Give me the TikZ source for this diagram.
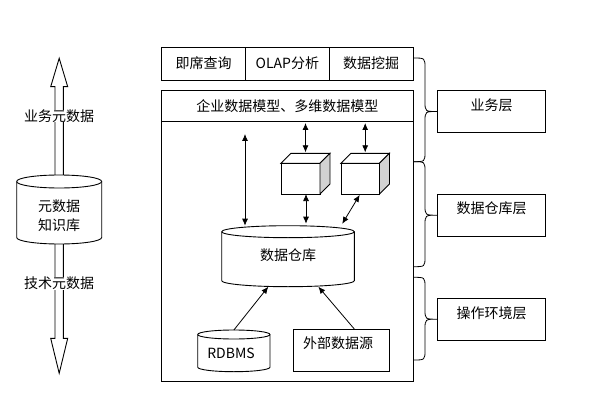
\documentclass[tikz,border=0pt]{standalone}
\usepackage{fontspec}
\setmainfont{Noto Sans CJK SC}
\usetikzlibrary{arrows.meta,calc}
% cylinder drawn around an (invisible) node: #1 name, #2 x radius, #3 y radius
\newcommand\drawcyl[3]{%
  \filldraw[fill=white] ([yshift=-#3pt]#1.north west) -- ([yshift=#3pt]#1.south west)
    arc[start angle=180,end angle=360,x radius=#2pt,y radius=#3pt]
    -- ([yshift=-#3pt]#1.north east)
    arc[start angle=0,end angle=180,x radius=#2pt,y radius=#3pt] -- cycle;
  \draw ([yshift=-#3pt]#1.north west) arc[start angle=180,end angle=360,x radius=#2pt,y radius=#3pt];}
% cube faces around a front-face node
\newcommand\drawcube[1]{%
  \filldraw[fill=white] (#1.north west) -- ($(#1.north west)+(10,-10)$) -- ($(#1.north east)+(10,-10)$) -- (#1.north east) -- cycle;
  \filldraw[fill=gray!35] (#1.north east) -- ($(#1.north east)+(10,-10)$) -- ($(#1.south east)+(10,-10)$) -- (#1.south east) -- cycle;}
% curly brace from main frame to a layer box
\newcommand\layerbrace[3]{%
  \draw[line width=0.8pt] (413,#1) .. controls (425,#1) .. (425,#1+10)
    -- ($(#3.west)+(-12.3,-10)$) .. controls ($(#3.west)+(-12.3,0)$) .. (#3.west)
    .. controls ($(#3.west)+(-12.3,0)$) .. ($(#3.west)+(-12.3,10)$)
    -- (425,#2-10) .. controls (425,#2) .. (413,#2);}
\begin{document}
\begin{tikzpicture}[x=1pt,y=-1pt,line width=0.9pt,
  font=\fontsize{14pt}{16pt}\selectfont,
  box/.style={draw,rectangle,inner sep=0pt,outer sep=0pt},
  shapebox/.style={rectangle,inner sep=0pt,outer sep=0pt},
  txt/.style={inner sep=0pt},
  dbl/.style={{Latex[length=7pt,width=6pt]}-{Latex[length=7pt,width=6pt]}},
  sgl/.style={-{Latex[length=7pt,width=6pt]}}]
\useasboundingbox[fill=white] (0,0) rectangle (597,417);

% ---- left: metadata repository with hollow double arrow
\draw (55,182) -- (55,86.7) -- (50.7,86.7) -- (59.2,58.3) -- (67.7,86.7) -- (63.4,86.7) -- (63.4,182);
\draw (55,237) -- (55,338.3) -- (50.7,338.3) -- (59.2,373.3) -- (67.7,338.3) -- (63.4,338.3) -- (63.4,237);
\node[shapebox,minimum width=85pt,minimum height=69pt] (meta) at (59.2,209.5) {};
\drawcyl{meta}{42.5}{6.5}
\node[txt,align=center,font=\fontsize{14pt}{19pt}\selectfont] (metatxt) at (59.2,215.5) {元数据\\知识库};
\node[txt,fill=white] (bizmeta) at (59.2,116) {业务元数据};
\node[txt,fill=white] (techmeta) at (59.2,283.3) {技术元数据};

% ---- top tools row
\node[box,minimum width=84pt,minimum height=33pt] (q1) at (203.7,63.5) {即席查询};
\node[box,minimum width=83.3pt,minimum height=33pt] (q2) at (287.35,63.5) {OLAP分析};
\node[box,minimum width=84pt,minimum height=33pt] (q3) at (371,63.5) {数据挖掘};

% ---- main frame
\node[box,minimum width=251.3pt,minimum height=291pt] (main) at (287.35,236.2) {};
\node[box,minimum width=251.3pt,minimum height=30.3pt] (hdr) at (287.35,105.85) {企业数据模型、多维数据模型};

% cubes
\node[box,fill=white,minimum width=39pt,minimum height=30.7pt] (c1) at (300.5,178.7) {};
\node[box,fill=white,minimum width=38.5pt,minimum height=30.7pt] (c2) at (360.2,178.7) {};
\drawcube{c1}
\drawcube{c2}

% data warehouse cylinder
\node[shapebox,minimum width=132.6pt,minimum height=61pt] (dw) at (288,256.2) {};
\drawcyl{dw}{66.3}{6}
\node[txt] (dwtxt) at (288,255) {数据仓库};

% sources
\node[shapebox,minimum width=72.3pt,minimum height=41.7pt] (rdb) at (233.85,350.85) {};
\drawcyl{rdb}{36.15}{4.5}
\node[txt] (rdbtxt) at (231,353) {RDBMS};
\node[box,minimum width=96pt,minimum height=42.7pt] (ext) at (341.3,350.35) {};
\node[txt] (exttxt) at (338,343) {外部数据源};

% connectors
\coordinate (c1t) at ($(c1.north)+(5,-10)$);
\coordinate (c2t) at ($(c2.north)+(5,-10)$);
\coordinate (aleft) at (245,134);
\draw[dbl,line width=0.8pt] (aleft) -- (aleft |- dw.north);
\draw[dbl,line width=0.8pt,shorten <=2pt,shorten >=1pt] (c1t |- hdr.south) -- (c1t);
\draw[dbl,line width=0.8pt,shorten <=2pt,shorten >=1pt] (c2t |- hdr.south) -- (c2t);
\draw[dbl,line width=0.8pt,shorten >=2pt] ($(c1.south)+(5.5,0)$) -- ($(dw.north)+(18,0)$);
\draw[dbl,line width=0.8pt,shorten <=1pt,shorten >=1pt] (c2.south) -- ($(dw.north east)+(-12.6,-1)$);
\draw[sgl,line width=0.8pt] (rdb.north) -- ($(dw.south)+(-19.7,0)$);
\draw[sgl,line width=0.8pt] ($(ext.north)+(13,0)$) -- ($(dw.south)+(30.3,0)$);

% ---- layer boxes and braces
\node[box,minimum width=108.4pt,minimum height=41.6pt] (ly1) at (491.5,111.5) {};
\node[box,minimum width=108.4pt,minimum height=41.6pt] (ly2) at (491.5,215.2) {};
\node[box,minimum width=108.4pt,minimum height=41.6pt] (ly3) at (491.5,319.2) {};
\node[txt] (ly1t) at ($(ly1.center)+(0,-6.5)$) {业务层};
\node[txt] (ly2t) at ($(ly2.center)+(0,-6.5)$) {数据仓库层};
\node[txt] (ly3t) at ($(ly3.center)+(0,-6)$) {操作环境层};
\layerbrace{58}{161.7}{ly1}
\layerbrace{161.7}{266.7}{ly2}
\layerbrace{277.3}{360}{ly3}
\end{tikzpicture}
\end{document}
